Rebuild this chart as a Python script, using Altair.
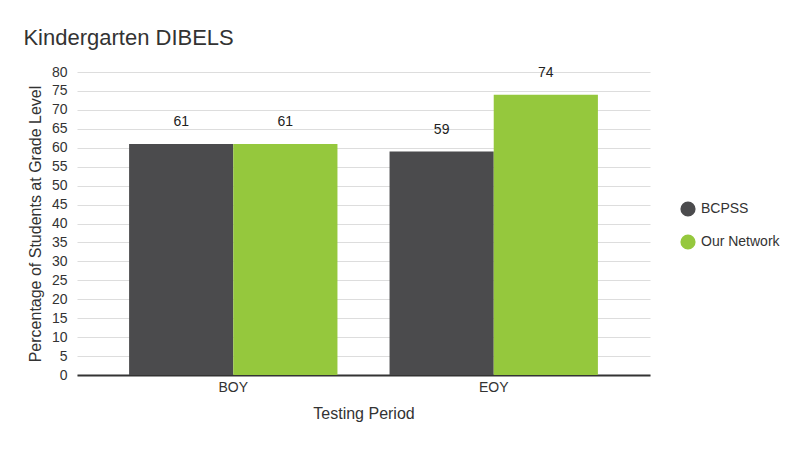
import pandas as pd
import altair as alt

# Values
periods = ["BOY", "EOY"]
groups = ["BCPSS", "Our Network"]
bcpss = [61, 59]
network = [61, 74]
colors = ["#4b4b4d", "#95c83d"]

rows = []
for i, p in enumerate(periods):
    rows.append({"period": p, "group": groups[0], "value": bcpss[i]})
    rows.append({"period": p, "group": groups[1], "value": network[i]})
df = pd.DataFrame(rows)

font = "Liberation Sans"
text_color = "#333333"

x = alt.X("period:N", title="Testing Period", sort=periods,
          scale=alt.Scale(paddingInner=0.2, paddingOuter=0.2),
          axis=alt.Axis(labelAngle=0, ticks=False, domainColor="#333333",
                        domainWidth=2, labelFontSize=14, titleFontSize=16,
                        labelPadding=5, titlePadding=11, labelColor=text_color,
                        titleColor=text_color, titleFontWeight="normal"))
xo = alt.XOffset("group:N", sort=groups)
y = alt.Y("value:Q", title="Percentage of Students at Grade Level",
          scale=alt.Scale(domain=[0, 80], nice=False),
          axis=alt.Axis(values=list(range(0, 81, 5)), ticks=False, domain=False,
                        gridColor="#dddddd", gridWidth=1, labelFontSize=14,
                        titleFontSize=16, labelPadding=10, titlePadding=8,
                        labelColor=text_color, titleColor=text_color,
                        titleFontWeight="normal"))

base = alt.Chart(df)

bars = base.mark_bar().encode(
    x=x, xOffset=xo, y=y,
    color=alt.Color("group:N", sort=groups,
                    scale=alt.Scale(domain=groups, range=colors),
                    legend=alt.Legend(title=None, orient="none", legendX=603,
                                      legendY=129, symbolType="circle",
                                      symbolSize=230, symbolStrokeWidth=0,
                                      labelFontSize=14, labelColor=text_color,
                                      rowPadding=17, labelOffset=5)),
)

labels = base.mark_text(dy=-22, fontSize=14, color="#222222").encode(
    x=x, xOffset=xo, y=y, text="value:Q"
)

chart = alt.layer(bars, labels).properties(
    width=573,
    height=303,
    autosize=alt.AutoSizeParams(type="none"),
    padding={"left": 69, "top": 64, "right": 142, "bottom": 60},
    title=alt.TitleParams("Kindergarten DIBELS", anchor="start", dx=-4,
                          dy=-11, fontSize=22, fontWeight="normal",
                          color=text_color, font=font),
).configure(font=font).configure_view(strokeWidth=0)

chart.save("out.html", embed_options={"renderer": "svg", "actions": False})
